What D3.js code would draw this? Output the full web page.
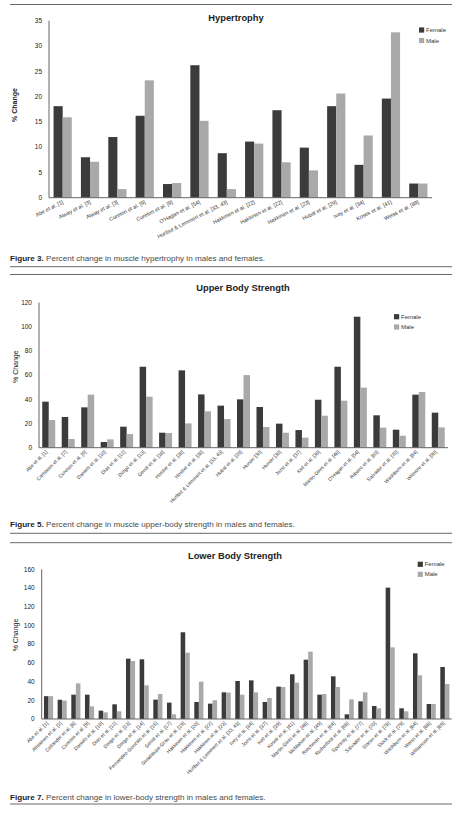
<!DOCTYPE html>
<html>
<head>
<meta charset="utf-8">
<script src="https://cdn.jsdelivr.net/npm/d3@7"></script>
<style>
  body { margin: 0; background: #fff; }
  svg text { font-family: "Liberation Sans", Arial, Helvetica, sans-serif; }
</style>
</head>
<body>
<div id="chart"></div>
<script>
// hypertrophy
const hypStudies = ["Abe et al. [1]", "Alway et al. [3]", "Alway et al. [3]", "Cureton et al. [9]", "Cureton et al. [9]",
  "O'Hagan et al. [54]", "Hurlbut & Lemmert et al. [33, 43]", "Hakkinen et al. [22]", "Hakkinen et al. [22]",
  "Hakkinen et al. [23]", "Hubal et al. [29]", "Ivey et al. [34]", "Kosek et al. [41]", "Weiss et al. [88]"]
const hypFemale = [18.1, 8.0, 12.0, 16.2, 2.7, 26.2, 8.8, 11.1, 17.3, 9.9, 18.1, 6.5, 19.6, 2.8]
const hypMale = [15.9, 7.1, 1.7, 23.2, 2.9, 15.2, 1.7, 10.7, 7.0, 5.4, 20.6, 12.3, 32.7, 2.8]
const hypTicks = [0, 5, 10, 15, 20, 25, 30, 35]

// upper body strength
const upStudies = ["Abe et al. [1]", "Carlsteen et al. [7]", "Cureton et al. [9]", "Daniels et al. [10]", "Dias et al. [12]",
  "Dorgo et al. [13]", "Gentil et al. [18]", "Hostler et al. [28]", "Hostler et al. [28]",
  "Hurlbut & Lemmert et al. [33, 43]", "Hubal et al. [29]", "Hunter [30]", "Hunter [30]", "Jozsi et al. [37]",
  "Kell et al. [39]", "Martin-Ginis et al. [48]", "O'Hagan et al. [54]", "Ribeiro et al. [63]",
  "Salvador et al. [70]", "Washburn et al. [84]", "Wilmore et al. [90]"]
const upFemale = [38.1, 25.4, 33.4, 4.7, 17.4, 67.0, 12.4, 64.0, 44.1, 34.8, 40.0, 33.7, 19.9, 14.6, 39.7, 67.0, 108.4, 26.8, 14.9, 43.9, 29.0]
const upMale = [22.9, 7.2, 43.9, 6.9, 11.3, 42.2, 12.1, 20.1, 30.1, 23.7, 60.1, 17.1, 12.4, 8.3, 26.5, 38.9, 49.7, 16.6, 9.9, 46.1, 16.8]
const upTicks = [0, 20, 40, 60, 80, 100, 120]

// lower body strength
const lowStudies = ["Abe et al. [1]", "Ahtiainen et al. [2]", "Collander et al. [8]", "Cureton et al. [9]", "Daniels et al. [10]",
  "Dias et al. [12]", "Dorgo et al. [13]", "Dorgo et al. [14]", "Fernandez-Gonzalo et al. [15]", "Gentil et al. [17]",
  "Guadalupe-Grau et al. [19]", "Hakkinen et al. [20]", "Hakkinen et al. [22]", "Hakkinen et al. [23]",
  "Hurlbut & Lemmert et al. [33, 43]", "Ivey et al. [34]", "Jozsi et al. [37]", "Kell et al. [39]", "Kosek et al. [41]",
  "Martin-Ginis et al. [48]", "McMahon et al. [49]", "Riechman et al. [64]", "Rutherford et al. [68]",
  "Spurway et al. [77]", "Salvador et al. [70]", "Staron et al. [78]", "Stock et al. [79]", "Washburn et al. [84]",
  "Weiss et al. [88]", "Williamson et al. [89]"]
const lowFemale = [24.4, 20.6, 26.0, 26.0, 8.9, 15.7, 64.5, 63.8, 20.7, 17.5, 92.7, 18.2, 16.4, 28.5, 40.6, 41.3, 18.2, 34.6, 47.8, 63.4, 26.0, 45.6, 5.0, 18.9, 13.9, 140.4, 11.4, 70.2, 16.0, 55.6]
const lowMale = [24.4, 19.6, 38.1, 13.5, 7.1, 8.2, 62.0, 36.0, 26.7, 5.0, 70.9, 39.9, 20.0, 28.2, 26.0, 28.5, 22.5, 34.2, 38.8, 72.0, 26.7, 34.2, 21.0, 28.5, 11.4, 76.6, 8.2, 46.7, 16.0, 37.4]
const lowTicks = [0, 20, 40, 60, 80, 100, 120, 140, 160]

const series = ["Female", "Male"]
const colors = ["#3b3b3b", "#a9a9a9"]

const svg = d3.select("#chart").append("svg")
  .attr("width", 474)
  .attr("height", 814)

function drawPanel(p) {
  const g = svg.append("g")

  g.append("line")
    .attr("x1", 10).attr("x2", 452)
    .attr("y1", p.ruleTop).attr("y2", p.ruleTop)
    .attr("stroke", "#6a6a6a").attr("stroke-width", 1)

  g.append("text")
    .attr("x", p.titleX).attr("y", p.titleY)
    .attr("text-anchor", "middle")
    .attr("font-size", 9.3).attr("font-weight", "bold")
    .attr("fill", "#222")
    .text(p.title)

  const x = d3.scaleBand()
    .domain(d3.range(p.studies.length))
    .range([p.x0, p.x1])
  const xs = d3.scaleBand()
    .domain(series)
    .range([0, x.bandwidth()])
    .paddingOuter(0.5)
  const y = d3.scaleLinear()
    .domain([0, p.ymax])
    .range([p.yBottom, p.yTop])

  const rows = p.studies.map((s, i) => ({ i: i, vals: [p.female[i], p.male[i]] }))

  g.selectAll(".grp")
    .data(rows)
    .join("g")
    .attr("transform", d => `translate(${x(d.i)},0)`)
    .selectAll("rect")
    .data(d => d.vals.map((v, k) => ({ k: k, v: v })))
    .join("rect")
    .attr("x", d => xs(series[d.k]))
    .attr("width", xs.bandwidth())
    .attr("y", d => y(d.v))
    .attr("height", d => y(0) - y(d.v))
    .attr("fill", d => colors[d.k])

  // axes
  g.append("line")
    .attr("x1", p.x0).attr("x2", p.x0)
    .attr("y1", p.yTop).attr("y2", p.yBottom)
    .attr("stroke", "#666")
  g.append("line")
    .attr("x1", p.x0).attr("x2", p.x1)
    .attr("y1", p.yBottom).attr("y2", p.yBottom)
    .attr("stroke", "#666")

  g.selectAll(".ytick")
    .data(p.ticks)
    .join("text")
    .attr("x", p.x0 - 7)
    .attr("y", d => y(d))
    .attr("dy", "0.35em")
    .attr("text-anchor", "end")
    .attr("font-size", 6.5)
    .attr("fill", "#222")
    .text(d => d)

  g.append("text")
    .attr("transform", `translate(${p.yTitleX},${p.yTitleY}) rotate(-90)`)
    .attr("text-anchor", "middle")
    .attr("font-size", 7)
    .attr("font-weight", p.yTitleBold ? "bold" : "normal")
    .attr("fill", "#222")
    .text("% Change")

  g.selectAll(".xlab")
    .data(p.studies)
    .join("text")
    .attr("transform", (d, i) => `translate(${x(i) + x.bandwidth() / 2 + p.labDx},${p.yBottom + p.labDy}) rotate(${p.angle})`)
    .attr("text-anchor", "end")
    .attr("font-size", p.labSize)
    .attr("fill", "#333")
    .text(d => d)

  // legend
  series.forEach((s, k) => {
    g.append("rect")
      .attr("x", p.legX).attr("y", p.legY + k * p.legGap - 2.6)
      .attr("width", 5.2).attr("height", 5.2)
      .attr("fill", colors[k])
    g.append("text")
      .attr("x", p.legX + 7).attr("y", p.legY + k * p.legGap)
      .attr("dy", "0.35em")
      .attr("font-size", 6)
      .attr("fill", "#333")
      .text(s)
  })

  const cap = g.append("text")
    .attr("x", 10).attr("y", p.capY)
    .attr("font-size", 8.1)
    .attr("fill", "#4a4a4a")
  cap.append("tspan").attr("font-weight", "bold").attr("fill", "#1e1e1e").text(p.figLabel)
  cap.append("tspan").text(" " + p.caption)

  g.append("line")
    .attr("x1", 10).attr("x2", 452)
    .attr("y1", p.ruleBottom).attr("y2", p.ruleBottom)
    .attr("stroke", "#6a6a6a").attr("stroke-width", 1)
}

drawPanel({
  title: "Hypertrophy", titleX: 236, titleY: 20.5,
  studies: hypStudies, female: hypFemale, male: hypMale, ticks: hypTicks, ymax: 35,
  x0: 49, x1: 432, yTop: 20.7, yBottom: 197.7,
  ruleTop: 4.5, ruleBottom: 266.7,
  yTitleX: 17, yTitleY: 105, yTitleBold: true,
  angle: -27, labSize: 5.4, labDx: 1, labDy: 5.5,
  legX: 419, legY: 30, legGap: 10.5,
  figLabel: "Figure 3.", caption: "Percent change in muscle hypertrophy in males and females.", capY: 260.5
})

drawPanel({
  title: "Upper Body Strength", titleX: 243, titleY: 291,
  studies: upStudies, female: upFemale, male: upMale, ticks: upTicks, ymax: 120,
  x0: 39, x1: 448, yTop: 302.7, yBottom: 447.7,
  ruleTop: 274.5, ruleBottom: 533.3,
  yTitleX: 18, yTitleY: 366.7, yTitleBold: false,
  angle: -45, labSize: 5, labDx: -1, labDy: 4.5,
  legX: 394, legY: 316.7, legGap: 10.3,
  figLabel: "Figure 5.", caption: "Percent change in muscle upper-body strength in males and females.", capY: 527
})

drawPanel({
  title: "Lower Body Strength", titleX: 235, titleY: 558.5,
  studies: lowStudies, female: lowFemale, male: lowMale, ticks: lowTicks, ymax: 160,
  x0: 41.7, x1: 451.7, yTop: 569.3, yBottom: 719,
  ruleTop: 542.7, ruleBottom: 804,
  yTitleX: 18, yTitleY: 635, yTitleBold: false,
  angle: -45, labSize: 5, labDx: 0, labDy: 4.5,
  legX: 417.7, legY: 564.3, legGap: 10,
  figLabel: "Figure 7.", caption: "Percent change in lower-body strength in males and females.", capY: 800
})
</script>
</body>
</html>
